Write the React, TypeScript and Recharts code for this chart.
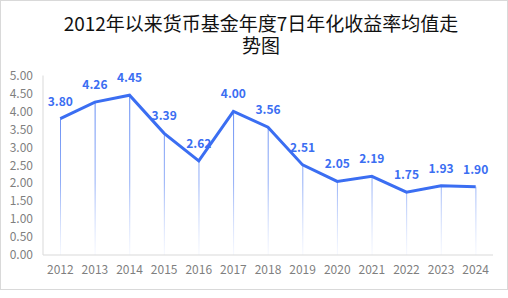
import React from "react";
import { ComposedChart, Line, Bar, XAxis, YAxis, LabelList } from "recharts";

const years = ["2012", "2013", "2014", "2015", "2016", "2017", "2018", "2019", "2020", "2021", "2022", "2023", "2024"];
const yields = [3.8, 4.26, 4.45, 3.39, 2.62, 4.0, 3.56, 2.51, 2.05, 2.19, 1.75, 1.93, 1.9];
const yTicks = [0, 0.5, 1, 1.5, 2, 2.5, 3, 3.5, 4, 4.5, 5];
const titleLines = ["2012年以来货币基金年度7日年化收益率均值走", "势图"];

const data = years.map((y, i) => ({ year: y, value: yields[i] }));

const FONT = '"Noto Sans CJK SC", "Noto Sans", sans-serif';
const BLUE = "#3b6ef2";

export default function App() {
  return (
    <div
      style={{
        position: "fixed",
        left: 0,
        top: 0,
        width: 508,
        height: 290,
        boxSizing: "border-box",
        border: "1px solid #d9d9d9",
        background: "#fff",
        fontFamily: FONT,
      }}
    >
      {titleLines.map((t, i) => (
        <div
          key={t}
          style={{
            position: "absolute",
            left: 12,
            top: 11 + i * 22,
            width: 496,
            textAlign: "center",
            fontSize: 19,
            lineHeight: "22px",
            color: "#111",
          }}
        >
          {t}
        </div>
      ))}
      <div style={{ position: "absolute", left: -1, top: -1 }}>
        <ComposedChart
          width={508}
          height={290}
          data={data}
          margin={{ top: 75.5, right: 15, bottom: 5, left: 0 }}
        >
          <defs>
            <linearGradient id="dropGrad" gradientUnits="userSpaceOnUse" x1="0" y1="75" x2="0" y2="255">
              <stop offset="0%" stopColor="#4f7cf2" stopOpacity={1} />
              <stop offset="60%" stopColor="#6f94f5" stopOpacity={0.75} />
              <stop offset="100%" stopColor="#9fb8f8" stopOpacity={0.08} />
            </linearGradient>
          </defs>
          <XAxis
            dataKey="year"
            height={30}
            axisLine={{ stroke: "#d9d9d9" }}
            tickLine={false}
            tickSize={0}
            tickMargin={10}
            tick={{ fill: "#7f7f7f", fontSize: 12, fontFamily: FONT }}
            interval={0}
          />
          <YAxis
            width={43}
            domain={[0, 5]}
            ticks={yTicks}
            interval={0}
            tickFormatter={(v: number) => v.toFixed(2)}
            axisLine={{ stroke: "#d9d9d9" }}
            tickLine={false}
            tickSize={0}
            tickMargin={10}
            tick={{ fill: "#7f7f7f", fontSize: 12, fontFamily: FONT }}
          />
          <Bar dataKey="value" barSize={1} fill="url(#dropGrad)" isAnimationActive={false} />
          <Line
            type="linear"
            dataKey="value"
            stroke={BLUE}
            strokeWidth={3}
            dot={false}
            activeDot={false}
            isAnimationActive={false}
          >
            <LabelList
              dataKey="value"
              position="top"
              offset={13}
              formatter={(v: number) => v.toFixed(2)}
              style={{ fill: BLUE, fontSize: 12, fontWeight: 700, fontFamily: FONT }}
            />
          </Line>
        </ComposedChart>
      </div>
    </div>
  );
}
